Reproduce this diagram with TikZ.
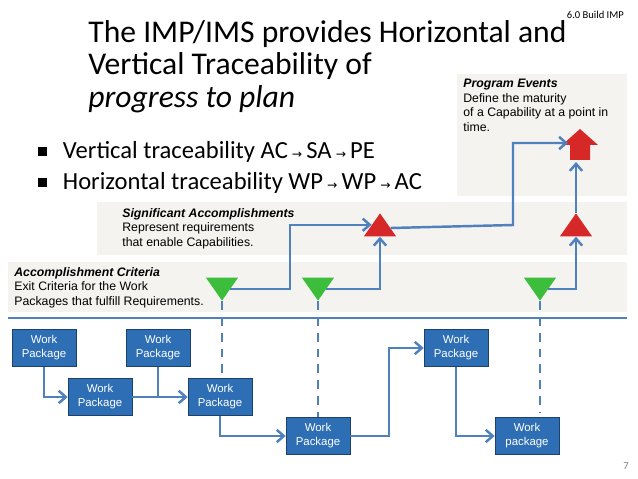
\documentclass[tikz,border=0pt]{standalone}
\usepackage{fontspec}
\setmainfont{Carlito}
\newfontfamily\arial{Liberation Sans}
\newfontfamily\djvfont{DejaVu Sans}
\usetikzlibrary{arrows.meta,shapes.geometric}
\definecolor{lb}{RGB}{79,129,189}
\definecolor{wpb}{RGB}{46,110,180}
\definecolor{pan}{RGB}{244,243,240}
\definecolor{grn}{RGB}{60,190,60}
\definecolor{rd}{RGB}{215,40,40}
\tikzset{
 wp/.style={draw=wpb!60!black,fill=wpb,text=white,minimum width=1.28cm,minimum height=0.74cm,align=center,font=\arial\fontsize{6.5}{8}\selectfont,inner sep=0pt},
 conn/.style={draw=lb,line width=1.4pt,-{Straight Barb[length=4pt,width=7pt]}},
 dsh/.style={draw=lb,line width=1pt,dash pattern=on 5pt off 4pt},
 dn/.style={isosceles triangle,shape border rotate=-90,isosceles triangle apex angle=70,fill=grn,minimum height=0.46cm,inner sep=0pt},
 up/.style={isosceles triangle,shape border rotate=90,isosceles triangle apex angle=70,fill=rd,minimum height=0.46cm,inner sep=0pt},
 ptxt/.style={anchor=north west,align=left,font=\arial\fontsize{7}{8.2}\selectfont,inner sep=0pt},
 bul/.style={anchor=west,font=\fontsize{14}{16}\selectfont,inner sep=0pt}
}
\newcommand{\mysq}{\raisebox{1.5pt}{\rule{5pt}{5pt}}\hspace{9pt}}
\newcommand{\myar}{\,{\djvfont\fontsize{7}{8}\selectfont→}\,}
\begin{document}
\begin{tikzpicture}[x=0.02cm,y=-0.02cm]
\useasboundingbox (0,0) rectangle (638,479);
\fill[white] (0,0) rectangle (638,479);
\node[anchor=north east,font=\fontsize{6}{7}\selectfont] (bi) at (630,5) {6.0 Build IMP};
\node[anchor=north west,align=left,font=\fontsize{18}{18.5}\selectfont,inner sep=0pt] (title) at (88,20) {The IMP/IMS provides Horizontal and\\Vertical Traceability of\\\textit{progress to plan}};
\node[bul] (b1) at (38,152) {\mysq Vertical traceability AC\myar SA\myar PE};
\node[bul] (b2) at (38,183) {\mysq Horizontal traceability WP\myar WP\myar AC};
% panels
\fill[pan] (457,74) rectangle (627,196);
\fill[pan] (97,202) rectangle (627,255);
\fill[pan] (8,262) rectangle (627,312);
\node[ptxt] (pe) at (463,79) {\textbf{\textit{Program Events}}\\Define the maturity\\of a Capability at a point in\\time.};
\node[ptxt] (sa) at (122,208) {\textbf{\textit{Significant Accomplishments}}\\Represent requirements\\that enable Capabilities.};
\node[ptxt] (ac) at (14,267) {\textbf{\textit{Accomplishment Criteria}}\\Exit Criteria for the Work\\Packages that fulfill Requirements.};
\draw[lb,line width=0.8pt] (8,318) -- (627,318);
% triangles
\node[dn] (g1) at (222,286) {};
\node[dn] (g2) at (318,286) {};
\node[dn] (g3) at (540,286) {};
\node[up] (r1) at (380,228) {};
\node[up] (r2) at (576,228) {};
\fill[rd] (570,160) -- (570,145) -- (562,145) -- (580,129) -- (598,145) -- (590,145) -- (590,160) -- cycle;
\coordinate (pe0) at (568,143);
% work packages
\node[wp] (w1) at (44,348) {Work\\Package};
\node[wp] (w2) at (100,397) {Work\\Package};
\node[wp] (w3) at (158,348) {Work\\Package};
\node[wp] (w4) at (220,397) {Work\\Package};
\node[wp] (w5) at (318,436) {Work\\Package};
\node[wp] (w6) at (456,348) {Work\\Package};
\node[wp] (w7) at (527,436) {Work\\package};
% dashed
\draw[dsh] (g1.apex) -- (g1.apex |- w4.north);
\draw[dsh] (g2.apex) -- (g2.apex |- w5.north);
\draw[dsh] (g3.apex) -- (540,413);
% connectors
\draw[conn] (w1.south) |- (w2.west);
\draw[conn] (w2.east) -- (w4.west);
\draw[draw=lb,line width=1.4pt] (w3.south) -- (158,397);
\draw[conn] (w4.south) |- (w5.west);
\draw[conn] (w5.east) -- (389,436) |- (w6.west);
\draw[conn] (w6.south) |- (w7.west);
\draw[conn] (230,289) -- (290,289) |- (r1.left side);
\draw[conn] (326,289) -| (r1.south);
\draw[conn] (r1.east) -- (513,225) |- (pe0);
\draw[conn] (548,289) -| (r2.south);
\draw[conn] (r2.apex) -- (576,162);
\node[font=\fontsize{6}{7}\selectfont,text=gray] (pn) at (626,466) {7};
\end{tikzpicture}
\end{document}
